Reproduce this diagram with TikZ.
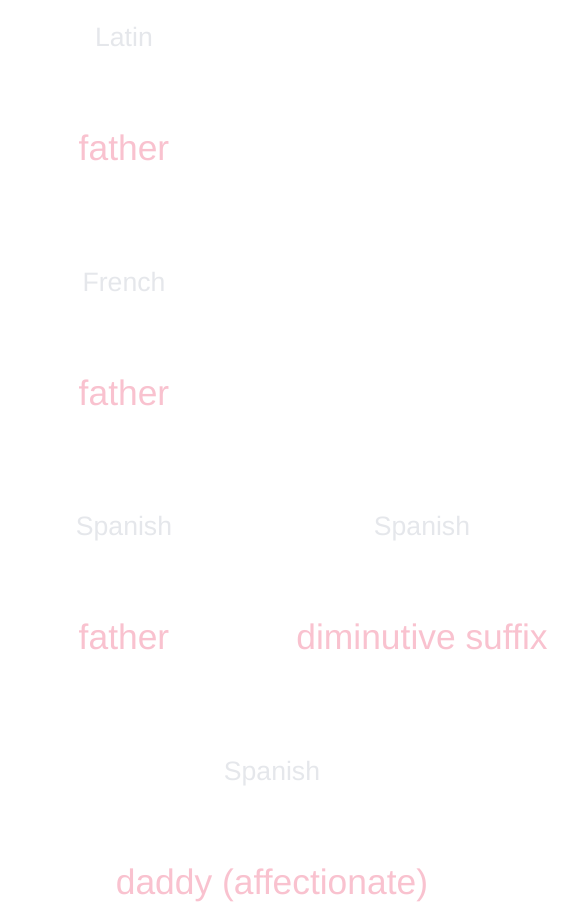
\documentclass[tikz,border=0pt]{standalone}
\usepackage{fontspec}
\setmainfont{Liberation Sans}
\definecolor{wordpink}{HTML}{F9C2CF}
\definecolor{langgrey}{HTML}{E5E7EB}
\tikzset{
  langlabel/.style={anchor=base, inner sep=0pt, text=langgrey, font=\fontsize{26.6}{32}\selectfont},
  wordlabel/.style={anchor=base, inner sep=0pt, text=wordpink, font=\fontsize{35.4}{42}\selectfont}
}
\begin{document}
\begin{tikzpicture}[x=1pt,y=1pt]
\useasboundingbox (0,0) rectangle (576,922);
% Latin
\node[langlabel] (latlang) at (124,{922-46.7}) {Latin};
\node[wordlabel] (latword) at (124,{922-161}) {father};
% French
\node[langlabel] (frlang) at (124,{922-291.2}) {French};
\node[wordlabel] (frword) at (124,{922-405.5}) {father};
% Spanish row
\node[langlabel] (eslang) at (124,{922-535.7}) {Spanish};
\node[wordlabel] (esword) at (124,{922-650}) {father};
\node[langlabel] (suflang) at (422,{922-535.7}) {Spanish};
\node[wordlabel] (sufword) at (422,{922-650}) {diminutive suffix};
% bottom
\node[langlabel] (dadlang) at (272,{922-780.2}) {Spanish};
\node[wordlabel] (dadword) at (272,{922-894.5}) {daddy (affectionate)};
\end{tikzpicture}
\end{document}
